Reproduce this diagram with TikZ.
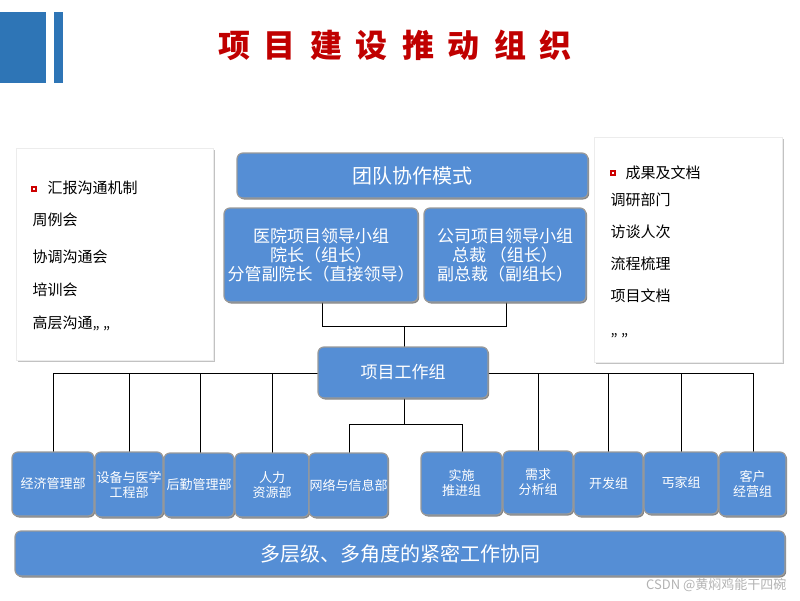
\documentclass[tikz,border=0pt]{standalone}
\usepackage{fontspec}
\setmainfont{Noto Sans CJK SC}
\usetikzlibrary{shadows}
\definecolor{bx}{HTML}{558ED5}
\definecolor{deco}{HTML}{2E75B6}
\definecolor{ttl}{HTML}{C00000}
\tikzset{x=1pt,y=-1pt,
 bbox/.style={draw=gray!80,line width=1.2pt,fill=bx,rounded corners=6pt,text=white,align=center,inner sep=0pt,
   drop shadow={shadow xshift=1.2pt,shadow yshift=-1.5pt,fill=black!60,opacity=0.8}},
 side/.style={draw=gray!15,fill=white,drop shadow={shadow xshift=2pt,shadow yshift=-2pt,fill=black!40,opacity=0.6}},
 ln/.style={draw=black,line width=0.8pt},
 lt/.style={anchor=west,font=\fontsize{15}{15}\selectfont}}
\newcommand{\bxn}[7]{%
 \pgfmathsetmacro{\bw}{#3-#1}\pgfmathsetmacro{\bh}{#4-#2}%
 \pgfmathsetmacro{\bcx}{(#1+#3)/2}\pgfmathsetmacro{\bcy}{(#2+#4)/2}%
 \node[bbox,minimum width=\bw pt,minimum height=\bh pt,font=\fontsize{#6}{#6}\selectfont] (#5) at (\bcx,\bcy) {#7};}
\newcommand{\tg}{\hspace{14pt}}
\begin{document}
\begin{tikzpicture}
\useasboundingbox (0,0) rectangle (800,600);
\fill[deco] (0,12) rectangle (46,83);
\fill[deco] (54,12) rectangle (63,83);
\node[text=ttl,font=\fontsize{32}{32}\selectfont\bfseries] (title) at (395,45) {项\tg 目\tg 建\tg 设\tg 推\tg 动\tg 组\tg 织};
% side boxes
\node[side,minimum width=197pt,minimum height=212pt] (lbox) at (114.5,254) {};
\node[side,minimum width=188pt,minimum height=225pt] (rbox) at (688,249.5) {};
\fill[red!80!black] (31,186) rectangle (37,192); \fill[white] (33,188) rectangle (35,190);
\node[lt] (l1) at (44,188) {汇报沟通机制};
\node[lt] (l2) at (29,220) {周例会};
\node[lt] (l3) at (29,257) {协调沟通会};
\node[lt] (l4) at (29,290) {培训会};
\node[lt] (l5) at (29,323) {高层沟通,, ,,};
\fill[red!80!black] (610,170) rectangle (616,176); \fill[white] (612,172) rectangle (614,174);
\node[lt] (r1) at (622,173) {成果及文档};
\node[lt] (r2) at (607,200) {调研部门};
\node[lt] (r3) at (607,232) {访谈人次};
\node[lt] (r4) at (607,264) {流程梳理};
\node[lt] (r5) at (607,296) {项目文档};
\node[lt] (r6) at (607,336) {,, ,,};
% connectors
\coordinate (j1) at (322,326); \coordinate (j2) at (506,326); \coordinate (j0) at (404,326);
\coordinate (bl) at (53,373); \coordinate (br) at (753,373);
\coordinate (k0) at (404,424); \coordinate (kl) at (349,424); \coordinate (kr) at (462,424);
\foreach \x in {53,129,200,272,538,608,681,753} {\draw[ln] (\x,373) -- (\x,455);}
\draw[ln] (bl) -- (br);
\draw[ln] (322,300) -- (j1) -- (j2) -- (506,300);
\draw[ln] (j0) -- (404,350);
\draw[ln] (404,395) -- (k0);
\draw[ln] (kl) -- (kr);
\draw[ln] (kl) -- (349,455); \draw[ln] (kr) -- (462,455);
% boxes
\bxn{237}{153}{588}{198}{team}{20}{团队协作模式}
\bxn{224}{208}{418}{302}{hosp}{17}{医院项目领导小组\\[2pt]院长（组长）\\[2pt]分管副院长（直接领导）}
\bxn{424}{208}{586}{302}{comp}{17}{公司项目领导小组\\[2pt]总裁 （组长）\\[2pt]副总裁（副组长）}
\bxn{318}{347}{488}{398}{wg}{17}{项目工作组}
\bxn{12}{452}{94}{516}{b1}{13}{经济管理部}
\bxn{95}{452}{163}{517}{b2}{13}{设备与医学\\[2pt]工程部}
\bxn{164}{453}{234}{517}{b3}{13}{后勤管理部}
\bxn{235}{453}{309}{517}{b4}{13}{人力\\[2pt]资源部}
\bxn{309}{453}{388}{517}{b5}{13}{网络与信息部}
\bxn{421}{452}{502}{515}{b6}{13}{实施\\[2pt]推进组}
\bxn{503}{451}{573}{514}{b7}{13}{需求\\[2pt]分析组}
\bxn{574}{452}{643}{516}{b8}{13}{开发组}
\bxn{644}{452}{718}{514}{b9}{13}{丐家组}
\bxn{719}{452}{786}{516}{b10}{13}{客户\\[2pt]经营组}
\bxn{15}{531}{785}{576}{bar}{20}{多层级、多角度的紧密工作协同}
\node[text=gray!60,font=\fontsize{13}{13}\selectfont,anchor=east] (wm) at (790,585) {CSDN @黄焖鸡能干四碗};
\end{tikzpicture}
\end{document}
